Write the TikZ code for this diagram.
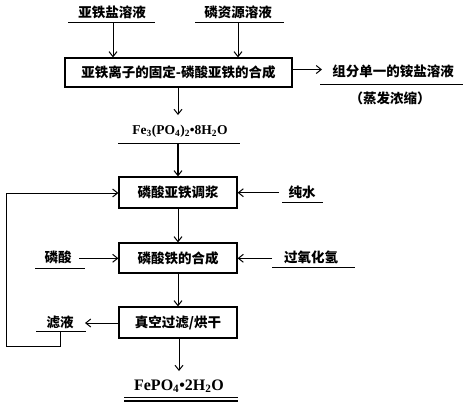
\documentclass[tikz,border=0pt]{standalone}
\usepackage{fontspec}
\setmainfont{Liberation Serif}
\newfontfamily\cjk{Noto Sans CJK SC}
\usetikzlibrary{arrows.meta}
\tikzset{
  box/.style={draw, line width=1.2pt, inner sep=0pt, font=\cjk\bfseries\fontsize{13.5}{14}\selectfont},
  lab/.style={inner sep=0pt, font=\cjk\bfseries\fontsize{13.5}{14}\selectfont},
  chem/.style={inner sep=0pt, font=\bfseries\fontsize{13.5}{14}\selectfont},
  uline/.style={line width=1pt},
  arr/.style={-{Straight Barb[length=5pt,width=8pt,line width=1pt]}, line width=1pt},
}
\begin{document}
\begin{tikzpicture}[x=1pt,y=-1pt]
\useasboundingbox (0,0) rectangle (474,408);
% boxes
\node[box, minimum width=227pt, minimum height=29pt] (b1) at (178.5,72.5) {亚铁离子的固定-磷酸亚铁的合成};
\node[box, minimum width=118pt, minimum height=31pt] (b2) at (178,192.5) {磷酸亚铁调浆};
\node[box, minimum width=118pt, minimum height=30pt] (b3) at (178,258) {磷酸铁的合成};
\node[box, minimum width=118pt, minimum height=31pt] (b4) at (178,322.5) {真空过滤/烘干};
% top inputs
\node[lab] (t1) at (112,12) {亚铁盐溶液};
\coordinate (u1a) at (68,22); \coordinate (u1b) at (155,22); \coordinate (u1) at (113,22);
\draw[uline] (u1a) -- (u1b);
\draw[arr] (u1) -- (u1 |- b1.north);
\node[lab] (t2) at (238,12) {磷资源溶液};
\coordinate (u2a) at (195,22); \coordinate (u2b) at (284,22); \coordinate (u2) at (238,22);
\draw[uline] (u2a) -- (u2b);
\draw[arr] (u2) -- (u2 |- b1.north);
% right output of b1
\node[lab] (t3) at (393,71) {组分单一的铵盐溶液};
\coordinate (u3a) at (320,84); \coordinate (u3b) at (463,84);
\draw[uline] (u3a) -- (u3b);
\node[lab] (t4) at (390,98) {（蒸发浓缩）};
\coordinate (b1r) at ([yshift=3pt]b1.east);
\coordinate (t3in) at (322,69.5);
\draw[arr] (b1r) -- (b1r -| t3in);
% Fe3(PO4)2.8H2O
\node[chem] (f1) at (180,131) {Fe\textsubscript{3}(PO\textsubscript{4})\textsubscript{2}•8H\textsubscript{2}O};
\coordinate (u4a) at (118,143.5); \coordinate (u4b) at (240,143.5); \coordinate (u4) at (178,143.5);
\draw[uline] (u4a) -- (u4b);
\coordinate (f1top) at (178,115);
\draw[arr] (b1.south -| f1top) -- (f1top);
\draw[arr, line width=1.6pt] (u4) -- (b2.north);
% 纯水
\node[lab] (t5) at (302,192) {纯水};
\coordinate (u5a) at (282,202); \coordinate (u5b) at (323,202);
\draw[uline] (u5a) -- (u5b);
\coordinate (a5) at (279,192.7);
\draw[arr] (a5) -- (a5 -| b2.east);
\draw[arr] (b2.south) -- (b3.north);
% 磷酸
\node[lab] (t6) at (58,257) {磷酸};
\coordinate (u6a) at (35,268); \coordinate (u6b) at (85,268);
\draw[uline] (u6a) -- (u6b);
\coordinate (a6) at (79,258.3);
\draw[arr] (a6) -- (a6 -| b3.west);
% 过氧化氢
\node[lab] (t7) at (311,257) {过氧化氢};
\coordinate (u7a) at (272,267); \coordinate (u7b) at (355,267);
\draw[uline] (u7a) -- (u7b);
\coordinate (a7) at (272,258.3);
\draw[arr] (a7) -- (a7 -| b3.east);
\draw[arr] (b3.south) -- (b4.north);
% 滤液
\node[lab] (t8) at (60,322) {滤液};
\coordinate (u8a) at (36,331); \coordinate (u8b) at (86,331); \coordinate (u8) at (60,331);
\draw[uline] (u8a) -- (u8b);
\coordinate (a8) at (85,323);
\draw[arr] (a8 -| b4.west) -- (a8);
\coordinate (c1) at (60,346); \coordinate (c2) at (6,346); \coordinate (c3) at (6,193);
\draw[uline] (u8) -- (c1) -- (c2) -- (c3);
\draw[arr] (c3) -- (c3 -| b2.west);
% final product
\node[chem, font=\bfseries\fontsize{16}{17}\selectfont] (f2) at (179,386) {FePO\textsubscript{4}•2H\textsubscript{2}O};
\coordinate (f2top) at (179,371);
\draw[arr] (b4.south -| f2top) -- (f2top);
\coordinate (u9a) at (124,397.5); \coordinate (u9b) at (238,397.5);
\coordinate (u9c) at (124,401); \coordinate (u9d) at (238,401);
\draw[line width=1.5pt] (u9a) -- (u9b);
\draw[line width=1.5pt] (u9c) -- (u9d);
\end{tikzpicture}
\end{document}
